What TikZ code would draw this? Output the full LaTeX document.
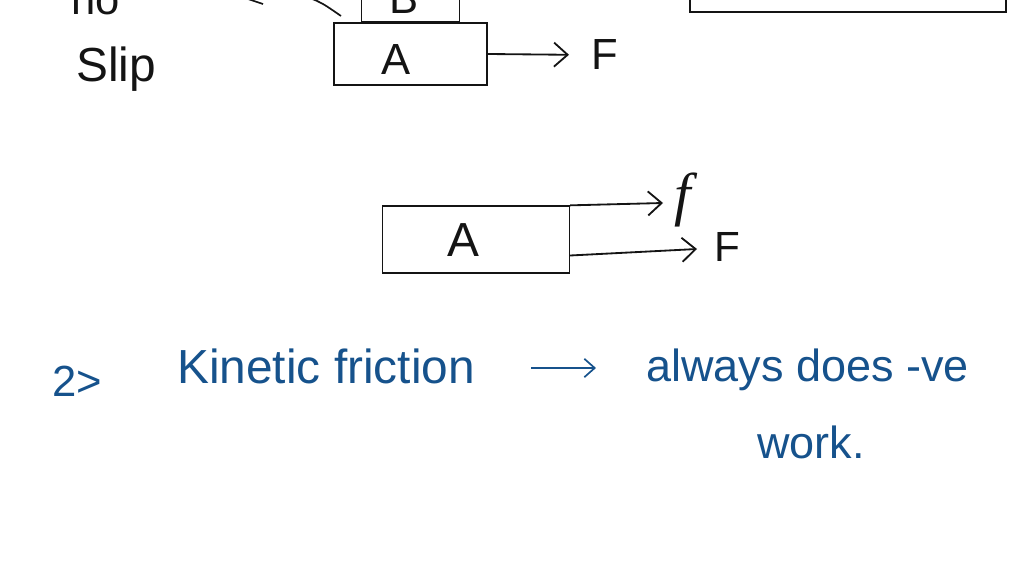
\documentclass[tikz,border=0pt]{standalone}
\usepackage{fontspec}
\usepackage{tikz}
\usetikzlibrary{arrows.meta,positioning}

\setmainfont{Liberation Sans}
\newfontfamily\symfont{Liberation Serif}
\definecolor{penblue}{RGB}{22,82,140}
\definecolor{pen}{RGB}{20,20,20}

\tikzset{
  block/.style={draw=pen, line width=0.9pt, inner sep=0pt},
  hand/.style={text=pen, inner sep=0pt, font=\fontsize{#1}{#1}\selectfont},
  hand/.default=31,
  bluehand/.style={text=penblue, inner sep=0pt, font=\fontsize{#1}{#1}\selectfont},
  bluehand/.default=32,
  force/.style={draw=pen, line width=1.3pt, -{Straight Barb[length=3.4mm,width=6mm]}},
  blueforce/.style={draw=penblue, line width=1.2pt, -{Straight Barb[length=2.6mm,width=4.6mm]}}
}

\begin{document}
\begin{tikzpicture}[x=0.025cm, y=-0.025cm]

  % page (pixel units, y downwards)
  \useasboundingbox (0,0) rectangle (1024,576);

  % No slip case: B resting on A (cut at the top)
  \node[hand, anchor=base] (noLabel) at (96,15) {no};
  \node[hand=34, anchor=base west] (slipLabel) at (76,82) {Slip};
  \node[block, minimum width=3.825cm, minimum height=1.55cm] (boxA) at (410.5,54) {};
  \node[hand, anchor=base] (labelA) at (396,75) {A};
  \node[block, minimum width=2.45cm, minimum height=0.9cm, anchor=south] (boxB) at (boxA.north) {};
  \node[hand, anchor=base] (labelB) at (404,14) {B};
  \node[hand, anchor=base west] (forceF) at (591,70) {F};
  \draw[force, shorten >=0.55cm] (boxA.east) -- (forceF.west);

  % strokes at the top edge, leading to the blocks
  \coordinate (strokeOne) at (263,4);
  \coordinate (curveEnd) at (341,16);
  \draw[pen, line width=1.2pt] (236,-5) .. controls (248,-1) .. (strokeOne);
  \draw[pen, line width=1.2pt] (288,-8) .. controls (318,0) .. (curveEnd);

  % Box cut off at the top right
  \draw[pen, line width=1.1pt] (690,-40) rectangle (1006,12);

  % Free body diagram of A
  \node[block, minimum width=4.675cm, minimum height=1.675cm] (boxA2) at (476,239.5) {};
  \node[hand=34, anchor=base] (labelA2) at (463,257) {A};
  \node[hand=42, anchor=base west] (fricLabel) at (674,215) {\symfont\itshape f};
  \node[hand=30, anchor=base west] (forceF2) at (714,262) {F};
  \draw[force] (boxA2.north east) -- (663,203);
  \draw[force] ([yshift=-0.4cm]boxA2.east) -- (697,249);

  % Statement 2
  \node[bluehand=31, anchor=base west] (stepNum) at (52,396) {2\textgreater};
  \node[bluehand=34, anchor=base west] (kinetic) at (177,383) {Kinetic friction};
  \node[bluehand, anchor=base west] (always) at (646,382) {always does -ve};
  \node[bluehand, anchor=base west] (work) at (757,458) {work.};
  \draw[blueforce, shorten <=1.4cm, shorten >=1.25cm] (kinetic.east |- 0,368) -- (always.west |- 0,368);

\end{tikzpicture}
\end{document}
